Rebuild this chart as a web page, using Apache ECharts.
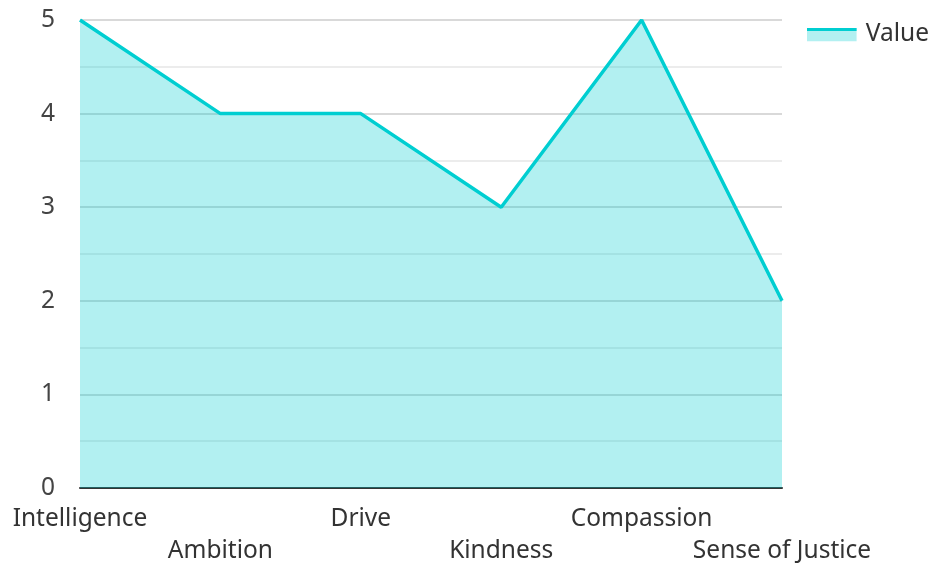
<!DOCTYPE html>
<html>
<head>
<meta charset="utf-8">
<script src="https://cdn.jsdelivr.net/npm/echarts@6/dist/echarts.min.js"></script>
<style>html,body{margin:0;padding:0;background:#fff}#c{width:931px;height:563px}</style>
</head>
<body>
<div id="c"></div>
<script>
var categories = ['Intelligence', 'Ambition', 'Drive', 'Kindness', 'Compassion', 'Sense of Justice'];
var values = [5, 4, 4, 3, 5, 2];
var seriesName = 'Value';

var iconSvg = '<svg xmlns="http://www.w3.org/2000/svg" width="50" height="14"><rect x="0" y="0" width="50" height="14" fill="#b2f0f1"/><rect x="0" y="0" width="50" height="3.5" fill="#00ced1"/></svg>';
var iconUri = 'image://data:image/svg+xml;charset=utf-8,' + encodeURIComponent(iconSvg);

var chart = echarts.init(document.getElementById('c'));
chart.setOption({
  animation: false,
  textStyle: { fontFamily: 'Noto Sans' },
  grid: { left: 80, right: 149, top: 20, bottom: 75, containLabel: false, outerBoundsMode: 'none' },
  legend: {
    right: 2, top: 22, padding: 0,
    itemWidth: 50, itemHeight: 14, itemGap: 10,
    icon: iconUri,
    textStyle: { fontSize: 24.5, color: '#333', fontFamily: 'Noto Sans', padding: [0, 0, 0, 4] },
    data: [{ name: seriesName, icon: iconUri }]
  },
  xAxis: {
    type: 'category',
    data: categories,
    boundaryGap: false,
    axisLine: { show: true, lineStyle: { color: '#333', width: 2 } },
    axisTick: { show: false },
    axisLabel: {
      interval: 0,
      margin: 15,
      fontSize: 24.5,
      lineHeight: 32,
      color: '#333',
      hideOverlap: false,
      formatter: function (v, i) { return i % 2 === 1 ? '\n' + v : v; }
    },
    splitLine: { show: false }
  },
  yAxis: {
    type: 'value',
    min: 0, max: 5, interval: 1,
    axisLine: { show: false },
    axisTick: { show: false },
    axisLabel: { fontSize: 24.5, color: '#444', margin: 25 },
    splitLine: { show: true, lineStyle: { color: '#cccccc', width: 1.5 } },
    minorTick: { show: false, splitNumber: 2 },
    minorSplitLine: { show: true, lineStyle: { color: '#e6e6e6', width: 1.5 } }
  },
  series: [{
    name: seriesName,
    type: 'line',
    data: values,
    symbol: 'none',
    lineStyle: { color: '#00ced1', width: 3.5 },
    itemStyle: { color: '#00ced1' },
    areaStyle: { color: '#00ced1', opacity: 0.3 }
  }]
});
</script>
</body>
</html>
